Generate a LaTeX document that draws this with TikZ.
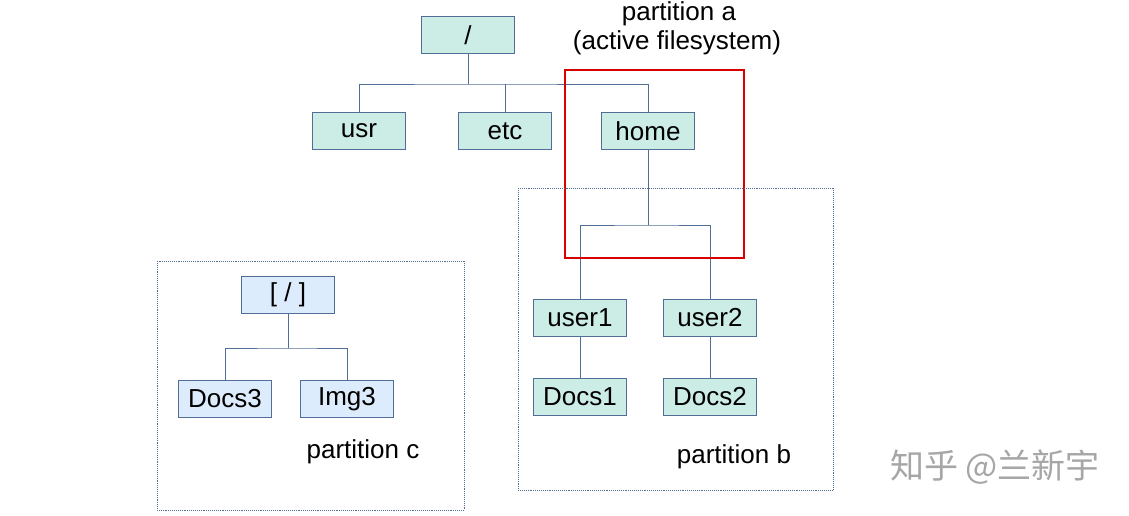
\documentclass[tikz,border=0pt]{standalone}
\usepackage{fontspec}
\setmainfont{Liberation Sans}
\newfontfamily\cjk{Noto Sans CJK SC}
\definecolor{tealf}{RGB}{204,236,230}
\definecolor{bluef}{RGB}{221,236,252}
\definecolor{edge}{RGB}{80,110,150}
\begin{document}
\begin{tikzpicture}[x=1pt,y=-1pt,
  box/.style={draw=edge,fill=#1,minimum width=93pt,minimum height=37pt,inner sep=0pt,font=\fontsize{26}{30}\selectfont},
  box/.default={tealf},
  ln/.style={draw=edge,line width=0.9pt},
  part/.style={draw=edge,densely dotted,line width=0.9pt},
  lab/.style={font=\fontsize{26}{30}\selectfont}]
\useasboundingbox (0,0) rectangle (1129,516);
\node[box] (root) at (468,35) {/};
\node[box] (usr) at (359,131) {usr};
\node[box] (etc) at (505,131) {etc};
\node[box] (home) at (648,131) {home};
\node[box] (u1) at (580,318) {user1};
\node[box] (u2) at (710,318) {user2};
\node[box] (d1) at (580,397) {Docs1};
\node[box] (d2) at (710,397) {Docs2};
\node[box=bluef] (r3) at (288,295) {[ / ]};
\node[box=bluef] (d3) at (225,399) {Docs3};
\node[box=bluef] (i3) at (347,399) {Img3};
\coordinate (b1) at (468,84);
\draw[ln] (root) -- (b1) (usr.north) |- (b1) -| (home.north) (etc.north) -- (etc.north|-b1);
\coordinate (b2) at (648,225);
\draw[ln] (home) -- (b2) (u1.north) |- (b2) -| (u2.north);
\draw[ln] (u1) -- (d1) (u2) -- (d2);
\coordinate (b3) at (288,348);
\draw[ln] (r3) -- (b3) (d3.north) |- (b3) -| (i3.north);
\draw[red!85!black,line width=1.5pt] (565,70) rectangle (744,258);
\draw[part] (518,188) rectangle (833,490);
\draw[part] (157,261) rectangle (464,510);
\node[lab] (pa) at (679,14) {partition a};
\node[lab] (pa2) at (677,43) {(active filesystem)};
\node[lab] (pc) at (363,452) {partition c};
\node[lab] (pb) at (734,457) {partition b};
\node[font=\cjk\fontsize{34}{38}\selectfont,text=black!35] (wm) at (995,467) {知乎 @兰新宇};
\end{tikzpicture}
\end{document}
